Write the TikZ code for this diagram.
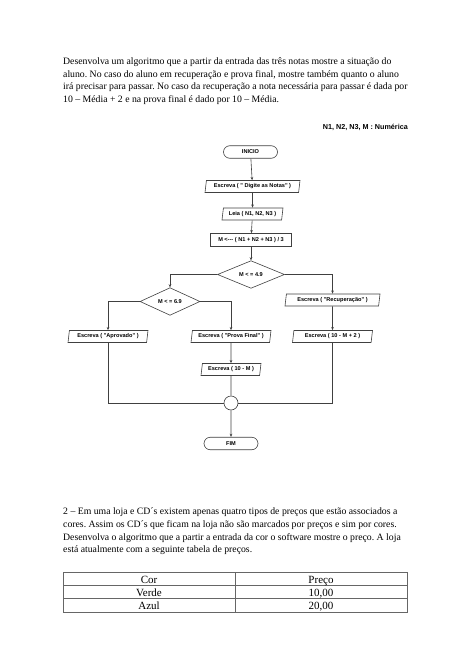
\documentclass[tikz,border=0pt]{standalone}
\usepackage{fontspec}
\setmainfont{Liberation Serif}
\newfontfamily\fluxo{Liberation Sans}
\usetikzlibrary{shapes.geometric,shapes.misc,arrows.meta}
\frenchspacing

\begin{document}
\begin{tikzpicture}[x=1pt,y=-1pt,
  linha/.style={draw=black!75, line width=0.6pt},
  seta/.style={linha, -{Stealth[length=3.2pt,width=2.6pt]}},
  rotulo/.style={font=\fluxo\bfseries\fontsize{5.6}{6}\selectfont, inner sep=0pt},
  terminal/.style={rounded rectangle, linha, fill=white, rotulo, minimum width=54pt, minimum height=12.5pt},
  entrada/.style={trapezium, trapezium left angle=75, trapezium right angle=105, trapezium stretches body, linha, fill=white, rotulo, minimum height=12pt},
  processo/.style={rectangle, linha, fill=white, rotulo, minimum height=13pt},
  decisao/.style={diamond, linha, fill=white, rotulo, minimum height=25pt},
  texto/.style={anchor=base west, inner sep=0pt, font=\fontsize{9.75}{12}\selectfont},
  celula/.style={anchor=base, inner sep=0pt, font=\fontsize{11}{13}\selectfont}]
  \useasboundingbox (0,0) rectangle (474,671);

  % Enunciado 1
  \node[texto] (p1a) at (63,64.5) {Desenvolva um algoritmo que a partir da entrada das três notas mostre a situação do};
  \node[texto] (p1b) at (63,77.3) {aluno. No caso do aluno em recuperação e prova final, mostre também quanto o aluno};
  \node[texto] (p1c) at (63,90) {irá precisar para passar. No caso da recuperação a nota necessária para passar é dada por};
  \node[texto] (p1d) at (63,102.7) {10 – Média + 2 e na prova final é dado por 10 – Média.};

  % Declaracao das variaveis
  \node[anchor=base east, inner sep=0pt, font=\fluxo\bfseries\fontsize{7.2}{8}\selectfont] (vars) at (408,130) {N1, N2, N3, M : Numérica};

  % Fluxograma
  \node[terminal] (inicio) at (250.5,152) {INICIO};
  \node[entrada, minimum width=95pt] (digite) at (252.5,186.5) {Escreva ( " Digite as Notas" )};
  \node[entrada, minimum width=61pt] (leia) at (252.5,214) {Leia ( N1, N2, N3 )};
  \node[processo, minimum width=81pt] (media) at (251,240) {M <--- ( N1 + N2 + N3 ) / 3};
  \node[decisao, minimum width=67pt] (teste1) at (251,274.5) {M < = 4.9};
  \node[decisao, minimum width=60pt] (teste2) at (170,301.5) {M < = 6.9};
  \node[entrada, minimum width=95pt] (recup) at (332.5,300) {Escreva ( "Recuperação" )};
  \node[entrada, minimum width=80pt] (aprov) at (108,336.5) {Escreva ( "Aprovado" )};
  \node[entrada, minimum width=80pt] (final) at (231,336.5) {Escreva ( "Prova Final" )};
  \node[entrada, minimum width=80pt] (nota2) at (332.5,336.5) {Escreva ( 10 - M + 2 )};
  \node[entrada, minimum width=60pt] (nota1) at (231,369.5) {Escreva ( 10 - M )};
  \node[circle, linha, fill=white, minimum size=14pt, inner sep=0pt] (juncao) at (231,403) {};
  \node[terminal] (fim) at (231,443.5) {FIM};

  % Ligacoes
  \draw[seta] (inicio) -- (digite);
  \draw[seta] (digite) -- (leia);
  \draw[seta] (leia) -- (media);
  \draw[seta] (media) -- (teste1);
  \draw[seta] (teste1.west) -| (teste2.north);
  \draw[seta] (teste1.east) -| (recup.north);
  \draw[seta] (teste2.west) -| (aprov.north);
  \draw[seta] (teste2.east) -| (final.north);
  \draw[seta] (recup) -- (nota2);
  \draw[seta] (final) -- (nota1);
  \draw[linha] (aprov.south) |- (juncao.west);
  \draw[linha] (nota2.south) |- (juncao.east);
  \draw[linha] (nota1) -- (juncao);
  \draw[seta] (juncao) -- (fim);

  % Enunciado 2
  \node[texto] (p2a) at (63,514.5) {2 – Em uma loja e CD´s existem apenas quatro tipos de preços que estão associados a};
  \node[texto] (p2b) at (63,527.2) {cores. Assim os CD´s que ficam na loja não são marcados por preços e sim por cores.};
  \node[texto] (p2c) at (63,540) {Desenvolva o algoritmo que a partir a entrada da cor o software mostre o preço. A loja};
  \node[texto] (p2d) at (63,552.7) {está atualmente com a seguinte tabela de preços.};

  % Tabela de precos
  \draw[black!60, line width=0.7pt] (63,572) rectangle (407,612);
  \draw[black!60, line width=0.7pt] (63,585) -- (407,585) (63,598) -- (407,598) (235,572) -- (235,612);
  \node[celula] (cor) at (149,583) {Cor};
  \node[celula] (preco) at (321,583) {Preço};
  \node[celula] (verde) at (149,596) {Verde};
  \node[celula] (dez) at (321,596) {10,00};
  \node[celula] (azul) at (149,609) {Azul};
  \node[celula] (vinte) at (321,609) {20,00};
\end{tikzpicture}
\end{document}
